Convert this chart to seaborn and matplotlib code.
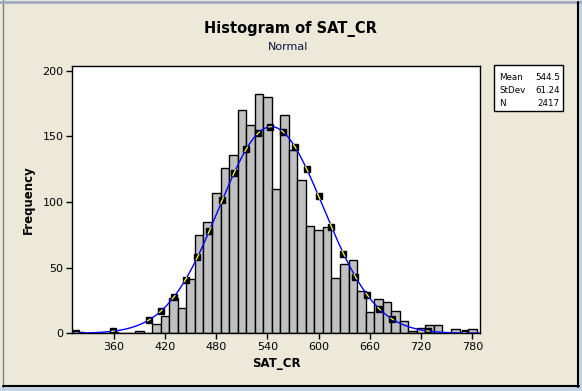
import numpy as np
import pandas as pd
import matplotlib
matplotlib.use("Agg")
import matplotlib.pyplot as plt
import seaborn as sns
from matplotlib.patches import Rectangle
from matplotlib.lines import Line2D

# bin centres (width 10) and counts
bin_centers = [320, 360, 390, 410, 420, 430, 440, 450, 460, 470, 480, 490, 500,
               510, 520, 530, 540, 550, 560, 570, 580, 590, 600, 610, 620, 630,
               640, 650, 660, 670, 680, 690, 700, 710, 720, 730, 740, 760, 770, 780]
counts = [1, 1, 2, 7, 13, 27, 19, 41, 75, 85, 107, 126, 136,
          170, 159, 182, 180, 110, 166, 140, 117, 82, 79, 81, 42, 53,
          56, 32, 16, 26, 24, 17, 9, 2, 4, 6, 6, 3, 1, 3]

# fitted normal stats
mean = 544.5
stdev = 61.24
n_obs = 2417
bin_width = 10

# points where the fitted curve shows symbol markers
marker_x = [316, 359, 401, 415, 430, 444, 458, 472, 487, 501, 515, 529, 543,
            558, 572, 586, 600, 615, 629, 643, 657, 671, 686, 728, 771]

bg = "#ECE9D8"

sns.set_style("white")
plt.rcParams["font.family"] = ["DejaVu Sans"]
plt.rcParams["text.color"] = "black"
plt.rcParams["xtick.color"] = "black"
plt.rcParams["ytick.color"] = "black"

fig = plt.figure(figsize=(5.82, 3.91), dpi=100, facecolor=bg)
W, H = 582, 391
ax = fig.add_axes([72 / W, 1 - 333.3 / H, (480 - 72) / W, (333.3 - 66) / H])
ax.set_facecolor("white")

df = pd.DataFrame({"SAT_CR": bin_centers, "count": counts})
sns.histplot(data=df, x="SAT_CR", weights="count", binwidth=bin_width,
             binrange=(315, 785), color="#C0C0C0", edgecolor="black",
             linewidth=1, alpha=1, ax=ax)


def normal_curve(x):
    x = np.asarray(x, dtype=float)
    pdf = np.exp(-0.5 * ((x - mean) / stdev) ** 2) / (stdev * np.sqrt(2 * np.pi))
    return pdf * n_obs * bin_width


xs = np.linspace(311, 789, 500)
ax.plot(marker_x, normal_curve(marker_x), linestyle="none", marker="s",
        markersize=4.5, color="black", zorder=3)
sns.lineplot(x=xs, y=normal_curve(xs), color="#0000FF", linewidth=1, ax=ax, zorder=4)
for mx in marker_x:
    seg = np.linspace(mx - 1.6, mx + 1.6, 5)
    ax.plot(seg, normal_curve(seg), color="#FFFF00", linewidth=0.9, zorder=5)

ax.set_xlim(311, 789)
ax.set_ylim(0, 203.7)
ax.set_xticks(range(360, 781, 60))
ax.set_yticks(range(0, 201, 50))
ax.set_xlabel("")
ax.set_ylabel("")
ax.tick_params(direction="out", length=4, width=1, color="black",
               labelcolor="black", labelsize=8, bottom=True, left=True, pad=2)
for s in ax.spines.values():
    s.set_color("black")
    s.set_linewidth(1)

# titles and axis labels
fig.text(290 / W, 1 - 29 / H, "Histogram of SAT_CR", ha="center", va="center",
         fontsize=10.5, fontweight="bold", color="black")
fig.text(288 / W, 1 - 47 / H, "Normal", ha="center", va="center", fontsize=8,
         color="#101040")
fig.text(276 / W, 1 - 363 / H, "SAT_CR", ha="center", va="center",
         fontsize=8.5, fontweight="bold", color="black")
fig.text(28 / W, 1 - 200 / H, "Frequency", ha="center", va="center",
         rotation=90, fontsize=8.5, fontweight="bold", color="black")

# stats box
fig.add_artist(Rectangle((494 / W, 1 - 111.3 / H), (563 - 494) / W, (111.3 - 65.3) / H,
                         transform=fig.transFigure, facecolor="white",
                         edgecolor="black", linewidth=1))
rows = [("Mean", f"{mean}"), ("StDev", f"{stdev}"), ("N", f"{n_obs}")]
for i, (lab, val) in enumerate(rows):
    y = 1 - (77 + i * 13.5) / H
    fig.text(499 / W, y, lab, ha="left", va="center", fontsize=6.3, color="black")
    fig.text(560 / W, y, val, ha="right", va="center", fontsize=6.3, color="black")

# window frame
fig.add_artist(Rectangle((579 / W, 0), 3 / W, 1, transform=fig.transFigure,
                         facecolor="#C3D3E6", edgecolor="none"))
fig.add_artist(Rectangle((0, 0), 1, 4 / H, transform=fig.transFigure,
                         facecolor="#C3D3E6", edgecolor="none"))
fig.add_artist(Line2D([3 / W, 3 / W], [4 / H, 1], transform=fig.transFigure, color="#808080", lw=1))
fig.add_artist(Line2D([0, 1], [1 - 1.5 / H, 1 - 1.5 / H], transform=fig.transFigure, color="#9CAAC1", lw=2))
fig.add_artist(Line2D([578 / W, 578 / W], [1 - 386.5 / H, 1 - 2 / H], transform=fig.transFigure, color="black", lw=1.5))
fig.add_artist(Line2D([3 / W, 578.5 / W], [1 - 385.7 / H, 1 - 385.7 / H], transform=fig.transFigure, color="black", lw=1.5))

fig.savefig("out.png", dpi=100, facecolor=bg)
